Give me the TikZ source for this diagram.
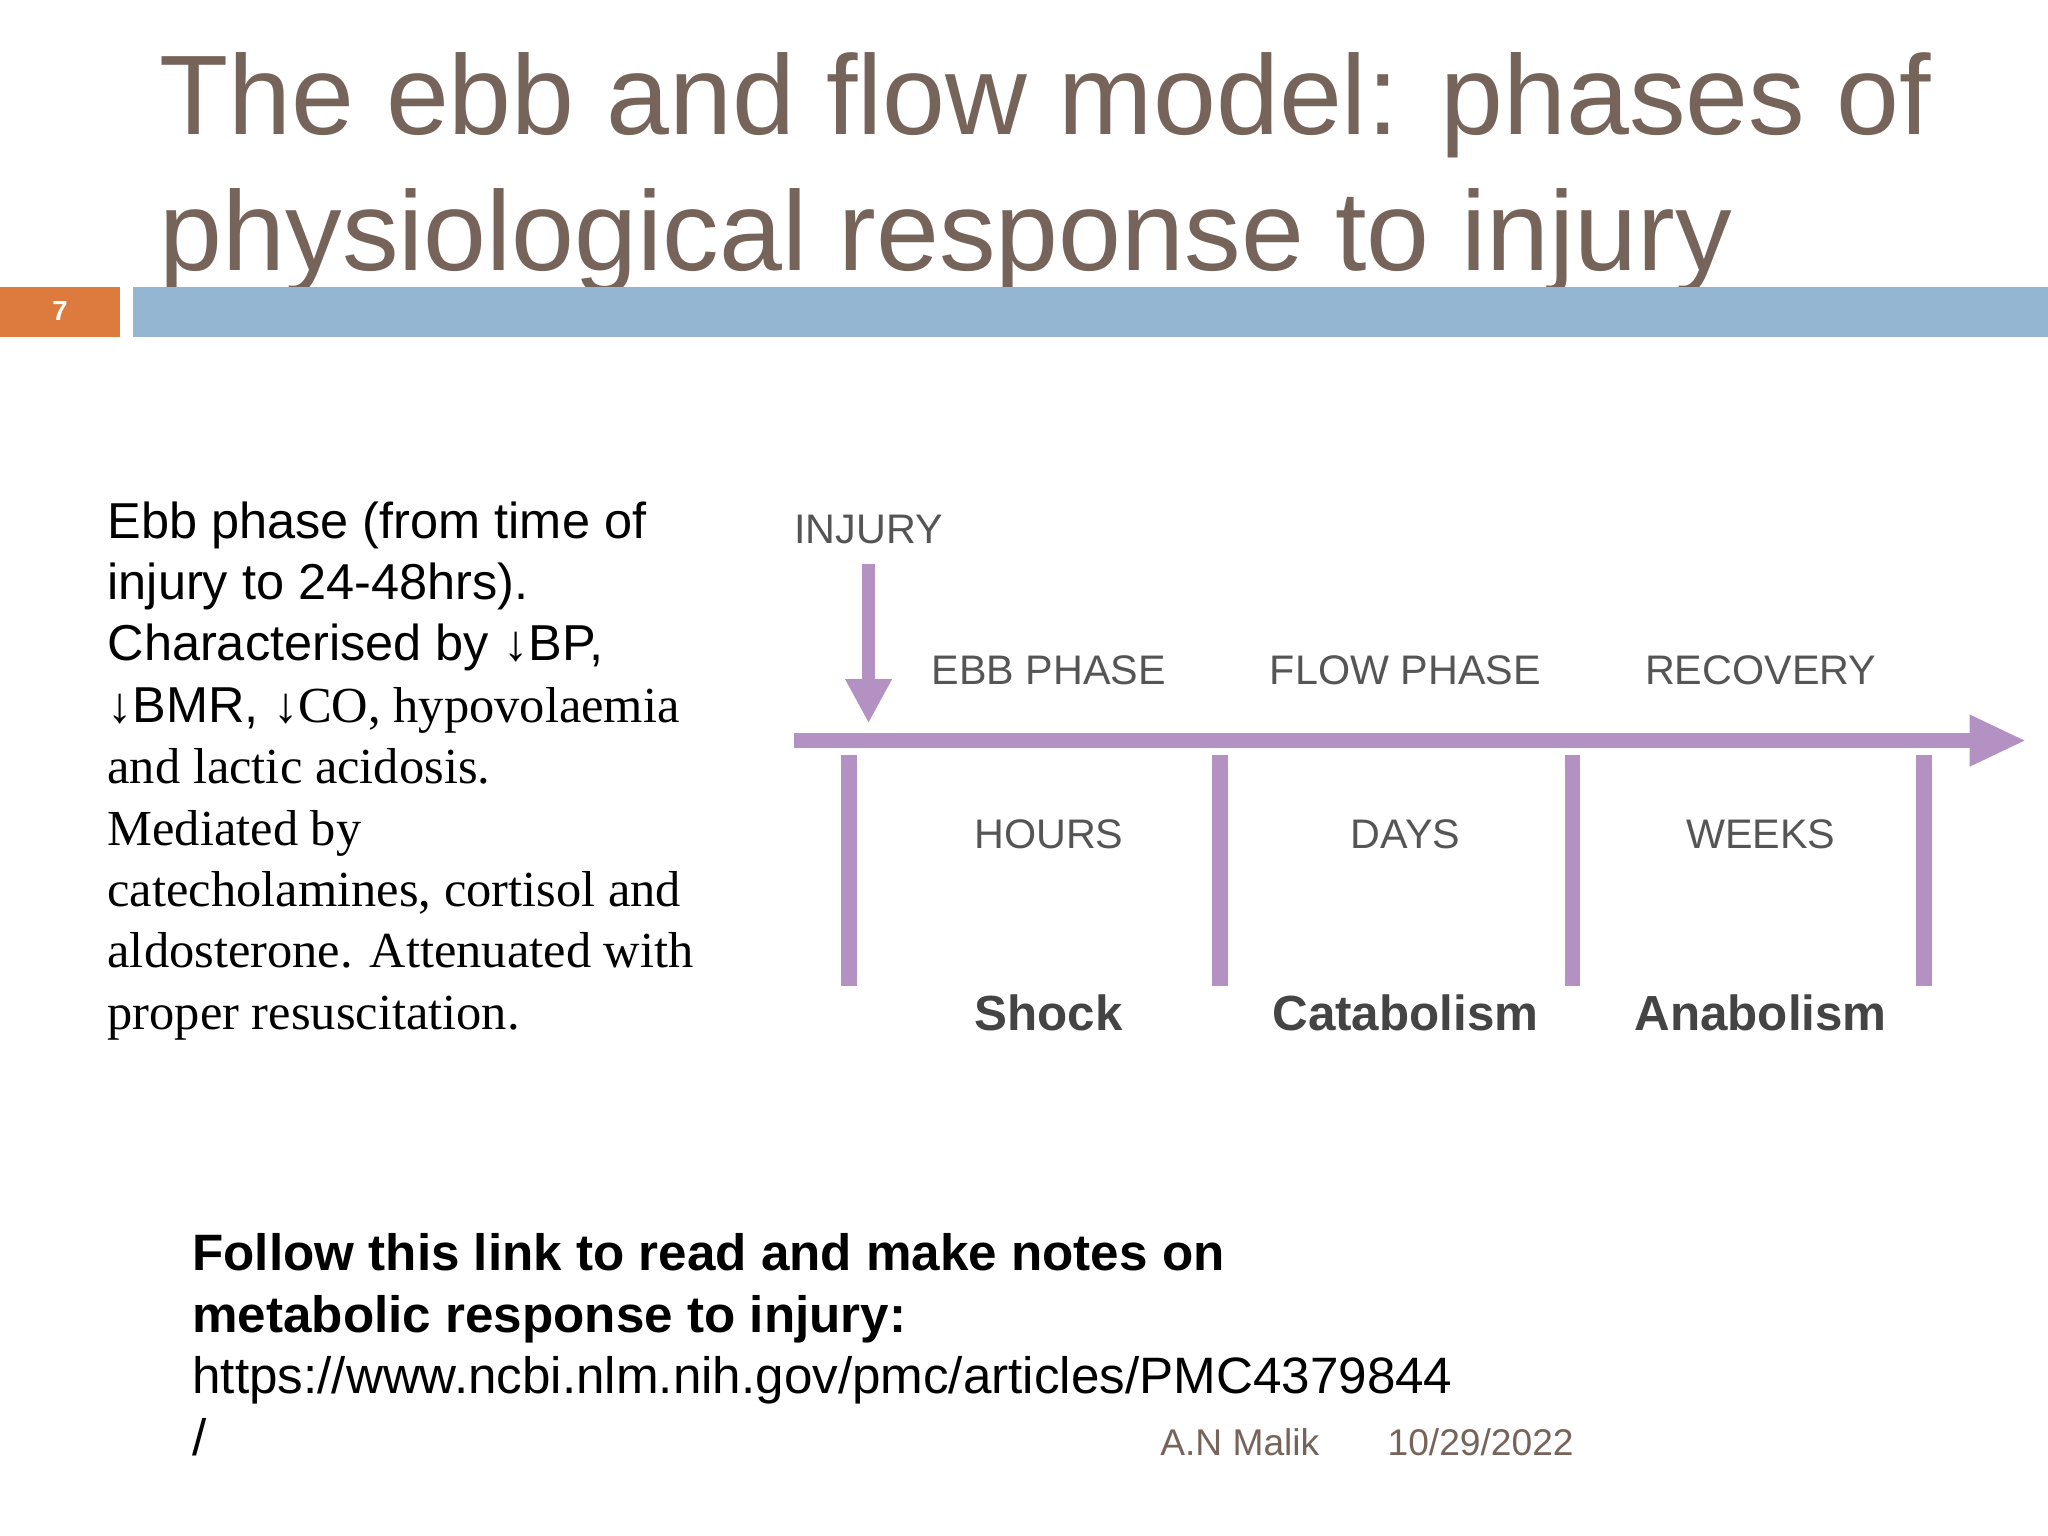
\documentclass[tikz,border=0pt]{standalone}
\usepackage{fontspec}
\setmainfont{Liberation Sans}
\newfontfamily\serifx{Liberation Serif}
\definecolor{titlec}{RGB}{118,100,90}
\definecolor{orangec}{RGB}{221,122,62}
\definecolor{bluec}{RGB}{148,182,210}
\definecolor{purp}{RGB}{180,145,195}
\definecolor{labc}{RGB}{85,85,85}
\begin{document}
\begin{tikzpicture}[x=0.02cm,y=-0.02cm,
  tl/.style={anchor=base west,inner sep=0,font=\fontsize{49.3}{54}\selectfont,text=titlec},
  bl/.style={anchor=base west,inner sep=0,font=\fontsize{22}{26}\selectfont},
  sb/.style={anchor=base west,inner sep=0,font=\fontsize{22}{26}\serifx},
  fl/.style={anchor=base west,inner sep=0,font=\fontsize{22.3}{26}\selectfont\bfseries},
  dl/.style={anchor=base,inner sep=0,font=\fontsize{18}{21}\selectfont,text=labc},
  sl/.style={anchor=base,inner sep=0,font=\fontsize{21.5}{24}\selectfont\bfseries,text=labc!80!black},
  bar/.style={draw=purp,line width=0.24cm},
  ft/.style={anchor=base west,inner sep=0,font=\fontsize{16.2}{20}\selectfont,text=titlec}]
\useasboundingbox (0,0) rectangle (1568,1176);
\fill[white] (0,0) rectangle (1568,1176);
\node[tl] (t1) at (122,103) {The ebb and flow model: phases of};
\node[tl] (t2) at (122,207) {physiological response to injury};
\fill[orangec] (0,220) rectangle (92,258);
\fill[bluec] (102,220) rectangle (1568,258);
\node[font=\fontsize{12}{14}\selectfont\bfseries,text=white] (num) at (46,238) {7};
% left text
\node[bl] (l1) at (82,412) {Ebb phase (from time of};
\node[bl] (l2) at (82,459) {injury to 24-48hrs).};
\node[bl] (l3) at (82,506) {Characterised by ↓BP,};
\node[bl] (l4) at (82,553) {↓BMR, ↓{\serifx CO, hypovolaemia}};
\node[sb] (l5) at (82,600) {and lactic acidosis.};
\node[sb] (l6) at (82,647) {Mediated by};
\node[sb] (l7) at (82,694) {catecholamines, cortisol and};
\node[sb] (l8) at (82,741) {aldosterone. Attenuated with};
\node[sb] (l9) at (82,788) {proper resuscitation.};
% diagram
\coordinate (a0) at (608,567);
\coordinate (a1) at (1512,567);
\draw[purp,line width=0.24cm] (a0) -- (a1);
\fill[purp] (1508,547) -- (1550,567) -- (1508,587) -- cycle;
\node[dl] (inj) at (665,416) {INJURY};
\coordinate (i0) at (665,432);
\coordinate (i1) at (665,522);
\draw[purp,line width=0.2cm] (i0) -- (i1);
\fill[purp] (647,520) -- (683,520) -- (665,553) -- cycle;
\foreach \x/\n in {650/b1,934/b2,1204/b3,1473/b4}{
  \coordinate (\n a) at (\x,578); \coordinate (\n b) at (\x,755);
  \draw[bar] (\n a) -- (\n b);}
\node[dl] (e1) at (803,524) {EBB PHASE};
\node[dl] (e2) at (1076,524) {FLOW PHASE};
\node[dl] (e3) at (1348,524) {RECOVERY};
\node[dl] (h1) at (803,650) {HOURS};
\node[dl] (h2) at (1076,650) {DAYS};
\node[dl] (h3) at (1348,650) {WEEKS};
\node[sl] (s1) at (803,789) {Shock};
\node[sl] (s2) at (1076,789) {Catabolism};
\node[sl] (s3) at (1348,789) {Anabolism};
% bottom
\node[fl] (f1) at (147,973) {Follow this link to read and make notes on};
\node[fl] (f2) at (147,1020) {metabolic response to injury:};
\node[bl,font=\fontsize{22.3}{26}\selectfont] (f3) at (147,1067) {https://www.ncbi.nlm.nih.gov/pmc/articles/PMC4379844};
\node[bl,font=\fontsize{22.3}{26}\selectfont] (f4) at (147,1114) {/};
\node[ft] (m1) at (888,1114) {A.N Malik};
\node[ft] (m2) at (1062,1114) {10/29/2022};
\end{tikzpicture}
\end{document}
